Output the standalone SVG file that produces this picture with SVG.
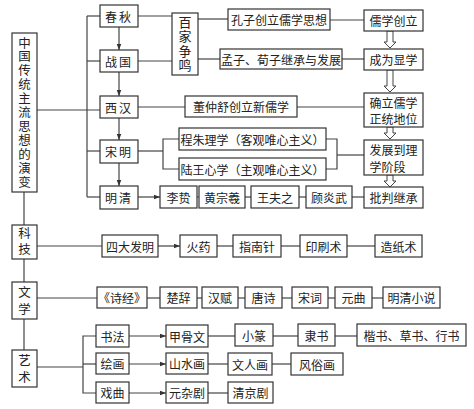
<svg xmlns="http://www.w3.org/2000/svg" width="474" height="409" viewBox="0 0 474 409">
<style>
rect{fill:#fff;stroke:#333;stroke-width:1.2}
.c line,.c polyline{stroke:#444;stroke-width:1.2;fill:none}
.h{fill:#fff;stroke:#444;stroke-width:1}
text{font-family:"Noto Sans CJK SC","Noto Sans CJK JP",sans-serif;font-size:12px;fill:#222;text-anchor:middle;dominant-baseline:central}
.v{font-size:12.5px;writing-mode:vertical-rl}
</style>
<defs>
<marker id="a" viewBox="0 0 8 8" refX="8" refY="4" markerWidth="6" markerHeight="6" orient="auto" markerUnits="userSpaceOnUse"><path d="M0,1 L8,4 L0,7 Z" fill="#333"/></marker>
</defs>
<g class="c" id="connectors">
<line x1="24" y1="192" x2="24" y2="225"/>
<line x1="24" y1="259" x2="24" y2="282"/>
<line x1="24" y1="319" x2="24" y2="350"/>
<line x1="37" y1="110" x2="100" y2="110"/>
<line x1="87" y1="16" x2="87" y2="197"/>
<line x1="87" y1="16" x2="100" y2="16"/>
<line x1="87" y1="61" x2="100" y2="61"/>
<line x1="87" y1="151" x2="100" y2="151"/>
<line x1="87" y1="197" x2="100" y2="197"/>
<line x1="119" y1="27" x2="119" y2="50" marker-end="url(#a)"/>
<line x1="119" y1="72" x2="119" y2="96" marker-end="url(#a)"/>
<line x1="119" y1="118" x2="119" y2="140" marker-end="url(#a)"/>
<line x1="119" y1="163" x2="119" y2="186" marker-end="url(#a)"/>
<line x1="138" y1="16" x2="172" y2="16"/>
<line x1="138" y1="61" x2="172" y2="61"/>
<line x1="198" y1="19" x2="228" y2="19"/>
<line x1="198" y1="59" x2="220" y2="59"/>
<line x1="330" y1="20" x2="364" y2="20"/>
<line x1="342" y1="59" x2="364" y2="59"/>
<line x1="138" y1="107" x2="185" y2="107"/>
<line x1="297" y1="107" x2="364" y2="107"/>
<line x1="138" y1="151" x2="163" y2="151"/>
<polyline points="179,139 163,139 163,169 179,169"/>
<polyline points="326,139 337,139 337,169 326,169"/>
<line x1="337" y1="155" x2="364" y2="155"/>
<line x1="138" y1="197" x2="160" y2="197" marker-end="url(#a)"/>
<line x1="197" y1="197" x2="199" y2="197"/>
<line x1="245" y1="197" x2="251" y2="197"/>
<line x1="299" y1="197" x2="306" y2="197"/>
<line x1="352" y1="197" x2="364" y2="197"/>
<path class="h" d="M387,31 L393,31 L393,42 L396,42 L390,48 L384,42 L387,42 Z"/>
<path class="h" d="M387,70 L393,70 L393,86 L396,86 L390,92 L384,86 L387,86 Z"/>
<path class="h" d="M387,127 L393,127 L393,133 L396,133 L390,139 L384,133 L387,133 Z"/>
<path class="h" d="M387,175 L393,175 L393,181 L396,181 L390,187 L384,181 L387,181 Z"/>
<line x1="37" y1="246" x2="102" y2="246"/>
<line x1="158" y1="246" x2="180" y2="246" marker-end="url(#a)"/>
<line x1="217" y1="246" x2="233" y2="246"/>
<line x1="281" y1="246" x2="300" y2="246"/>
<line x1="347" y1="246" x2="375" y2="246"/>
<line x1="37" y1="298" x2="97" y2="298"/>
<line x1="147" y1="298" x2="160" y2="298"/>
<line x1="197" y1="298" x2="202" y2="298"/>
<line x1="238" y1="298" x2="245" y2="298"/>
<line x1="282" y1="298" x2="292" y2="298"/>
<line x1="328" y1="298" x2="335" y2="298"/>
<line x1="372" y1="298" x2="383" y2="298"/>
<line x1="37" y1="367" x2="83" y2="367"/>
<polyline points="96,336 83,336 83,393 96,393"/>
<line x1="83" y1="364" x2="96" y2="364"/>
<line x1="129" y1="336" x2="166" y2="336" marker-end="url(#a)"/>
<line x1="129" y1="364" x2="166" y2="364" marker-end="url(#a)"/>
<line x1="129" y1="393" x2="166" y2="393" marker-end="url(#a)"/>
<line x1="208" y1="336" x2="235" y2="336"/>
<line x1="273" y1="336" x2="298" y2="336"/>
<line x1="335" y1="336" x2="357" y2="336"/>
<line x1="208" y1="364" x2="228" y2="364"/>
<line x1="272" y1="364" x2="291" y2="364"/>
<line x1="208" y1="393" x2="228" y2="393"/>
</g>
<g id="n_main"><rect x="12" y="33" width="25" height="159"/><text class="v" x="24.5" y="113" letter-spacing="1.4">中国传统主流思想的演变</text></g>
<g id="n_kj"><rect x="12" y="225" width="25" height="34"/><text class="v" x="24.5" y="243" letter-spacing="3.5">科技</text></g>
<g id="n_wx"><rect x="12" y="282" width="25" height="37"/><text class="v" x="24.5" y="302.5" letter-spacing="4.5">文学</text></g>
<g id="n_ys"><rect x="12" y="350" width="25" height="37"/><text class="v" x="24.5" y="370.5" letter-spacing="4.5">艺术</text></g>
<g id="n_cq"><rect x="100" y="5" width="38" height="22"/><text x="119" y="16" letter-spacing="2">春秋</text></g>
<g id="n_zg"><rect x="100" y="50" width="38" height="22"/><text x="119" y="61" letter-spacing="2">战国</text></g>
<g id="n_xh"><rect x="100" y="96" width="38" height="22"/><text x="119" y="107" letter-spacing="2">西汉</text></g>
<g id="n_sm"><rect x="100" y="140" width="38" height="23"/><text x="119" y="151.5" letter-spacing="2">宋明</text></g>
<g id="n_mq"><rect x="100" y="186" width="38" height="23"/><text x="119" y="197.5" letter-spacing="2">明清</text></g>
<g id="n_bj"><rect x="172" y="13" width="26" height="62"/><text class="v" x="185" y="44.5" style="font-size:13px" letter-spacing="1.5">百家争鸣</text></g>
<g id="n_kz"><rect x="228" y="9" width="102" height="21"/><text x="279" y="19.5">孔子创立儒学思想</text></g>
<g id="n_rc"><rect x="364" y="10" width="59" height="21"/><text x="393.5" y="20.5">儒学创立</text></g>
<g id="n_mz"><rect x="220" y="49" width="122" height="20"/><text x="281" y="59">孟子、荀子继承与发展</text></g>
<g id="n_cw"><rect x="364" y="49" width="59" height="21"/><text x="393.5" y="59.5">成为显学</text></g>
<g id="n_dz"><rect x="185" y="96" width="112" height="21"/><text x="241" y="106.5">董仲舒创立新儒学</text></g>
<g id="n_ql"><rect x="364" y="93" width="59" height="34"/><text x="393.5" y="102">确立儒学</text><text x="393.5" y="118">正统地位</text></g>
<g id="n_cz"><rect x="179" y="128" width="147" height="22"/><text x="252.5" y="139">程朱理学（客观唯心主义）</text></g>
<g id="n_lw"><rect x="179" y="158" width="147" height="22"/><text x="252.5" y="169">陆王心学（主观唯心主义）</text></g>
<g id="n_fz"><rect x="364" y="140" width="59" height="35"/><text x="393.5" y="149">发展到理</text><text x="387.5" y="166">学阶段</text></g>
<g id="n_lz"><rect x="160" y="186" width="37" height="22"/><text x="178.5" y="197">李贽</text></g>
<g id="n_hzx"><rect x="199" y="186" width="46" height="22"/><text x="222" y="197">黄宗羲</text></g>
<g id="n_wfz"><rect x="251" y="186" width="48" height="22"/><text x="275" y="197">王夫之</text></g>
<g id="n_gyw"><rect x="306" y="186" width="46" height="22"/><text x="329" y="197">顾炎武</text></g>
<g id="n_pp"><rect x="364" y="187" width="59" height="21"/><text x="393.5" y="197.5">批判继承</text></g>
<g id="n_sd"><rect x="102" y="235" width="56" height="22"/><text x="130" y="246">四大发明</text></g>
<g id="n_hy"><rect x="180" y="235" width="37" height="22"/><text x="198.5" y="246">火药</text></g>
<g id="n_zn"><rect x="233" y="235" width="48" height="22"/><text x="257" y="246">指南针</text></g>
<g id="n_ys2"><rect x="300" y="235" width="47" height="22"/><text x="323.5" y="246">印刷术</text></g>
<g id="n_zz"><rect x="375" y="235" width="47" height="22"/><text x="398.5" y="246">造纸术</text></g>
<g id="n_sj"><rect x="97" y="287" width="50" height="21"/><text x="122" y="297.5">《诗经》</text></g>
<g id="n_cc"><rect x="160" y="287" width="37" height="21"/><text x="178.5" y="297.5">楚辞</text></g>
<g id="n_hf"><rect x="202" y="287" width="36" height="21"/><text x="220" y="297.5">汉赋</text></g>
<g id="n_ts"><rect x="245" y="287" width="37" height="21"/><text x="263.5" y="297.5">唐诗</text></g>
<g id="n_sc"><rect x="292" y="287" width="36" height="21"/><text x="310" y="297.5">宋词</text></g>
<g id="n_yq"><rect x="335" y="287" width="37" height="21"/><text x="353.5" y="297.5">元曲</text></g>
<g id="n_mqxs"><rect x="383" y="287" width="57" height="21"/><text x="411.5" y="297.5">明清小说</text></g>
<g id="n_sf"><rect x="96" y="325" width="33" height="22"/><text x="112.5" y="336">书法</text></g>
<g id="n_hh"><rect x="96" y="353" width="33" height="21"/><text x="112.5" y="363.5">绘画</text></g>
<g id="n_xq"><rect x="96" y="382" width="33" height="21"/><text x="112.5" y="392.5">戏曲</text></g>
<g id="n_jgw"><rect x="166" y="325" width="42" height="22"/><text x="187" y="336">甲骨文</text></g>
<g id="n_ssh"><rect x="166" y="353" width="42" height="21"/><text x="187" y="363.5">山水画</text></g>
<g id="n_yzj"><rect x="166" y="382" width="42" height="21"/><text x="187" y="392.5">元杂剧</text></g>
<g id="n_xz"><rect x="235" y="324" width="38" height="22"/><text x="254" y="335">小篆</text></g>
<g id="n_ls"><rect x="298" y="324" width="37" height="22"/><text x="316.5" y="335">隶书</text></g>
<g id="n_kc"><rect x="357" y="324" width="109" height="22"/><text x="411.5" y="335">楷书、草书、行书</text></g>
<g id="n_wrh"><rect x="228" y="353" width="44" height="22"/><text x="250" y="364">文人画</text></g>
<g id="n_fsh"><rect x="291" y="353" width="52" height="22"/><text x="317" y="364">风俗画</text></g>
<g id="n_qjj"><rect x="228" y="382" width="45" height="21"/><text x="250.5" y="392.5">清京剧</text></g>
</svg>
